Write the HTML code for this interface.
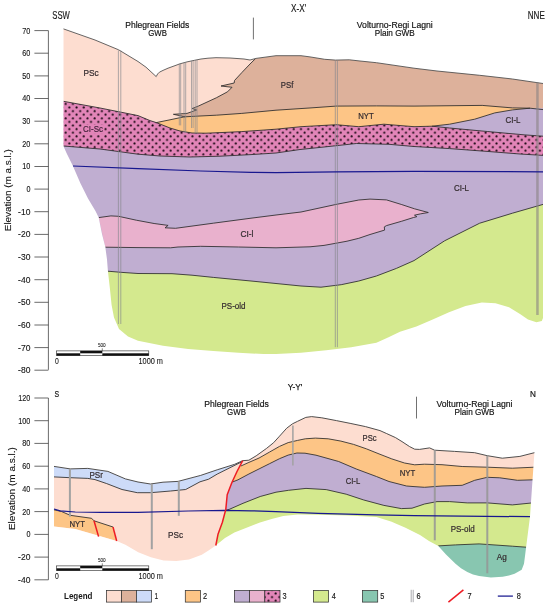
<!DOCTYPE html>
<html lang="en"><head><meta charset="utf-8"><title>Geological cross-sections X-X' and Y-Y'</title>
<style>
html,body{margin:0;padding:0;background:#fff;}
body{width:550px;height:610px;overflow:hidden;}
svg{display:block;font-family:"Liberation Sans",sans-serif;}
</style></head><body>
<svg width="550" height="610" viewBox="0 0 550 610">
<rect width="550" height="610" fill="#ffffff"/>
<defs>
<pattern id="dots" x="0" y="0" width="7.24" height="7.2" patternUnits="userSpaceOnUse"><rect width="7.24" height="7.2" fill="#e285b8"/><circle cx="0.54" cy="3.1" r="1.05" fill="#14060e"/><circle cx="7.78" cy="3.1" r="1.05" fill="#14060e"/><circle cx="4.16" cy="6.7" r="1.05" fill="#14060e"/><circle cx="4.16" cy="-0.5" r="1.05" fill="#14060e"/></pattern>
</defs>
<g>
<rect x="40" y="10" width="520" height="140" fill="#fdddd0"/>
<polygon points="255.5,58.6 250.0,64.0 242.0,72.4 234.5,80.5 234.2,83.0 221.0,86.0 232.0,87.3 227.5,91.8 216.3,97.8 198.5,106.0 192.2,108.5 196.5,110.0 187.0,113.4 173.4,114.3 185.0,116.8 185.0,140.0 580.0,140.0 580.0,0.0 255.5,0.0" fill="#ddb19b" />
<polygon points="156.3,122.6 170.0,119.8 180.0,117.7 185.0,116.8 200.0,116.0 216.3,115.2 241.8,113.4 276.0,110.2 311.0,107.9 336.2,106.1 376.4,105.9 414.0,106.1 482.2,105.4 512.4,107.9 530.0,108.2 543.0,109.6 580.0,109.6 580.0,140.0 156.3,140.0" fill="#fdc586" />
<polygon points="432.0,126.2 449.6,124.2 474.7,119.2 494.8,112.9 512.4,109.9 530.0,108.2 580.0,108.2 580.0,145.0 432.0,145.0" fill="#c0aed1" />
<polygon points="23.5,101.3 63.5,101.3 100.0,108.0 138.0,115.6 150.0,120.6 156.3,122.6 170.0,128.0 180.0,131.0 192.0,133.0 206.0,133.2 220.0,132.6 241.8,131.6 276.0,129.2 301.0,126.7 336.2,124.7 358.8,126.7 383.9,124.2 414.0,126.7 432.0,126.2 449.6,128.0 487.3,131.5 524.9,134.9 543.0,136.2 583.0,136.2 583.0,170.0 23.5,170.0" fill="url(#dots)" />
<polygon points="23.5,146.0 63.5,146.0 100.0,149.0 138.0,154.2 160.0,156.0 190.0,157.0 220.0,156.2 251.0,154.6 276.0,153.0 300.0,149.5 326.0,146.8 356.3,143.5 389.0,144.3 414.0,146.5 449.6,148.6 487.0,151.4 520.0,154.0 543.0,155.4 583.0,155.4 583.0,300.0 23.5,300.0" fill="#c0aed1" />
<polygon points="98.7,217.6 110.9,215.9 118.5,216.3 136.3,220.2 154.1,223.5 168.1,225.4 165.0,227.8 175.6,228.3 213.3,223.2 251.0,218.2 276.0,215.0 301.0,212.0 336.2,204.4 358.8,200.0 370.0,199.1 386.5,199.9 401.8,204.6 414.5,208.8 428.3,212.5 420.3,213.9 414.5,215.2 416.8,216.7 413.5,217.5 401.8,221.2 386.5,225.6 384.3,226.9 384.6,230.1 370.0,234.5 358.8,238.3 347.0,241.2 336.2,243.2 324.0,245.4 310.0,246.8 276.0,247.8 238.4,247.0 200.7,246.3 178.0,247.0 170.6,247.8 138.0,247.6 105.3,247.2" fill="#e9b1cd" />
<polygon points="67.9,271.2 107.9,271.2 122.0,272.4 138.0,273.5 172.0,273.7 192.0,275.2 213.3,277.4 251.0,281.0 276.0,283.5 301.0,286.0 321.0,287.2 341.2,284.7 358.8,281.0 376.4,276.0 396.4,268.4 414.0,260.6 444.6,240.8 479.7,223.2 512.4,213.2 543.0,204.4 583.0,204.4 583.0,380.0 67.9,380.0" fill="#d4e98e" />
<polyline points="255.5,58.6 250.0,64.0 242.0,72.4 234.5,80.5 234.2,83.0 221.0,86.0 232.0,87.3 227.5,91.8 216.3,97.8 198.5,106.0 192.2,108.5 196.5,110.0 187.0,113.4 173.4,114.3" fill="none" stroke="#2a2a2a" stroke-width="0.85" stroke-linejoin="round" />
<polyline points="173.4,114.3 185.0,116.8 200.0,116.0 216.3,115.2 241.8,113.4 276.0,110.2 311.0,107.9 336.2,106.1 376.4,105.9 414.0,106.1 482.2,105.4 512.4,107.9 530.0,108.2 543.0,109.6" fill="none" stroke="#2a2a2a" stroke-width="0.85" stroke-linejoin="round" />
<polyline points="156.3,122.6 170.0,119.8 180.0,117.7 185.0,116.8" fill="none" stroke="#2a2a2a" stroke-width="0.85" stroke-linejoin="round" />
<polyline points="432.0,126.2 449.6,124.2 474.7,119.2 494.8,112.9 512.4,109.9 530.0,108.2" fill="none" stroke="#2a2a2a" stroke-width="0.85" stroke-linejoin="round" />
<polyline points="63.5,101.3 100.0,108.0 138.0,115.6 150.0,120.6 156.3,122.6 170.0,128.0 180.0,131.0 192.0,133.0 206.0,133.2 220.0,132.6 241.8,131.6 276.0,129.2 301.0,126.7 336.2,124.7 358.8,126.7 383.9,124.2 414.0,126.7 432.0,126.2 449.6,128.0 487.3,131.5 524.9,134.9 543.0,136.2" fill="none" stroke="#2a2a2a" stroke-width="0.85" stroke-linejoin="round" />
<polyline points="63.5,146.0 100.0,149.0 138.0,154.2 160.0,156.0 190.0,157.0 220.0,156.2 251.0,154.6 276.0,153.0 300.0,149.5 326.0,146.8 356.3,143.5 389.0,144.3 414.0,146.5 449.6,148.6 487.0,151.4 520.0,154.0 543.0,155.4" fill="none" stroke="#2a2a2a" stroke-width="0.85" stroke-linejoin="round" />
<polyline points="98.7,217.6 110.9,215.9 118.5,216.3 136.3,220.2 154.1,223.5 168.1,225.4 165.0,227.8 175.6,228.3 213.3,223.2 251.0,218.2 276.0,215.0 301.0,212.0 336.2,204.4 358.8,200.0 370.0,199.1 386.5,199.9 401.8,204.6 414.5,208.8 428.3,212.5" fill="none" stroke="#2a2a2a" stroke-width="0.85" stroke-linejoin="round" />
<polyline points="428.3,212.5 420.3,213.9 414.5,215.2 416.8,216.7 413.5,217.5 401.8,221.2 386.5,225.6 384.3,226.9 384.6,230.1 370.0,234.5 358.8,238.3 347.0,241.2 336.2,243.2 324.0,245.4 310.0,246.8 276.0,247.8 238.4,247.0 200.7,246.3 178.0,247.0 170.6,247.8 138.0,247.6 105.3,247.2" fill="none" stroke="#2a2a2a" stroke-width="0.85" stroke-linejoin="round" />
<polyline points="107.9,271.2 122.0,272.4 138.0,273.5 172.0,273.7 192.0,275.2 213.3,277.4 251.0,281.0 276.0,283.5 301.0,286.0 321.0,287.2 341.2,284.7 358.8,281.0 376.4,276.0 396.4,268.4 414.0,260.6 444.6,240.8 479.7,223.2 512.4,213.2 543.0,204.4" fill="none" stroke="#2a2a2a" stroke-width="0.85" stroke-linejoin="round" />
</g>
<path d="M0,0H550V384H0Z M63.5,28.9 95.0,40.0 118.6,49.8 138.0,61.5 146.0,67.2 156.2,76.6 157.6,74.0 159.4,72.2 163.0,70.4 168.0,68.2 174.0,66.0 180.0,63.8 187.0,61.9 194.5,60.3 201.0,59.0 208.0,58.2 216.0,57.7 230.0,58.0 244.0,59.0 250.0,60.0 256.0,58.4 276.0,55.7 301.0,55.7 310.0,56.9 324.7,59.3 335.4,60.1 349.3,59.8 360.0,61.0 376.4,62.7 414.0,68.2 437.0,71.0 479.7,75.3 512.4,79.0 543.0,83.5 543.0,318.0 541.8,321.0 536.4,322.3 528.0,319.5 520.0,314.0 509.0,307.3 495.5,303.2 481.8,302.4 465.5,305.9 449.0,312.2 432.7,319.5 416.4,326.4 400.0,331.8 388.0,337.5 376.4,342.7 351.3,347.2 326.2,350.2 301.0,352.8 276.0,354.0 263.4,354.0 238.4,352.8 213.3,351.0 188.2,349.0 163.0,345.7 138.0,340.7 128.0,336.4 119.0,329.0 114.0,317.6 111.6,305.0 109.9,288.5 107.9,271.0 107.0,259.6 105.3,246.9 102.0,234.1 98.7,217.6 95.6,211.2 88.0,198.5 80.4,183.3 72.7,165.4 66.5,153.0 63.5,146.2Z" fill="#fff" fill-rule="evenodd"/>
<polyline points="63.5,28.9 95.0,40.0 118.6,49.8 138.0,61.5 146.0,67.2 156.2,76.6 157.6,74.0 159.4,72.2 163.0,70.4 168.0,68.2 174.0,66.0 180.0,63.8 187.0,61.9 194.5,60.3 201.0,59.0 208.0,58.2 216.0,57.7 230.0,58.0 244.0,59.0 250.0,60.0 256.0,58.4 276.0,55.7 301.0,55.7 310.0,56.9 324.7,59.3 335.4,60.1 349.3,59.8 360.0,61.0 376.4,62.7 414.0,68.2 437.0,71.0 479.7,75.3 512.4,79.0 543.0,83.5" fill="none" stroke="#4a4a4a" stroke-width="0.85" stroke-linejoin="round" />
<line x1="118.4" y1="50.4" x2="118.4" y2="324.0" stroke="#85878c" stroke-width="0.65"/><line x1="120.8" y1="50.4" x2="120.8" y2="324.0" stroke="#85878c" stroke-width="0.65"/>
<line x1="179.3" y1="63.8" x2="179.3" y2="125.4" stroke="#85878c" stroke-width="0.65"/><line x1="180.7" y1="63.8" x2="180.7" y2="125.4" stroke="#85878c" stroke-width="0.65"/>
<line x1="184.0" y1="62.5" x2="184.0" y2="133.0" stroke="#85878c" stroke-width="0.65"/><line x1="185.7" y1="62.5" x2="185.7" y2="133.0" stroke="#85878c" stroke-width="0.65"/>
<line x1="191.5" y1="60.8" x2="191.5" y2="128.0" stroke="#85878c" stroke-width="0.65"/><line x1="193.1" y1="60.8" x2="193.1" y2="128.0" stroke="#85878c" stroke-width="0.65"/>
<line x1="195.2" y1="60.0" x2="195.2" y2="134.0" stroke="#85878c" stroke-width="0.65"/><line x1="197.0" y1="60.0" x2="197.0" y2="134.0" stroke="#85878c" stroke-width="0.65"/>
<line x1="335.3" y1="60.3" x2="335.3" y2="347.2" stroke="#85878c" stroke-width="0.65"/><line x1="337.4" y1="60.3" x2="337.4" y2="347.2" stroke="#85878c" stroke-width="0.65"/>
<rect x="536.2" y="82.6" width="2.5" height="232.4" fill="#8a8585" fill-opacity="0.62"/>
<polyline points="73.0,166.0 138.0,168.6 200.7,171.0 251.0,172.3 276.0,172.6 336.2,171.8 414.0,171.3 543.0,171.8" fill="none" stroke="#18188f" stroke-width="1.25" stroke-linejoin="round" />
<line x1="48.4" y1="30.6" x2="48.4" y2="369.8" stroke="#3a3a3a" stroke-width="0.75"/><line x1="34.4" y1="30.6" x2="48.4" y2="30.6" stroke="#3a3a3a" stroke-width="0.75"/><text x="30.4" y="33.5" text-anchor="end" font-size="8.2" textLength="8.1" lengthAdjust="spacingAndGlyphs" fill="#161616" stroke="#161616" stroke-width="0.12">70</text><line x1="34.4" y1="53.2" x2="48.4" y2="53.2" stroke="#3a3a3a" stroke-width="0.75"/><text x="30.4" y="56.1" text-anchor="end" font-size="8.2" textLength="8.1" lengthAdjust="spacingAndGlyphs" fill="#161616" stroke="#161616" stroke-width="0.12">60</text><line x1="34.4" y1="75.9" x2="48.4" y2="75.9" stroke="#3a3a3a" stroke-width="0.75"/><text x="30.4" y="78.8" text-anchor="end" font-size="8.2" textLength="8.1" lengthAdjust="spacingAndGlyphs" fill="#161616" stroke="#161616" stroke-width="0.12">50</text><line x1="34.4" y1="98.5" x2="48.4" y2="98.5" stroke="#3a3a3a" stroke-width="0.75"/><text x="30.4" y="101.4" text-anchor="end" font-size="8.2" textLength="8.1" lengthAdjust="spacingAndGlyphs" fill="#161616" stroke="#161616" stroke-width="0.12">40</text><line x1="34.4" y1="121.2" x2="48.4" y2="121.2" stroke="#3a3a3a" stroke-width="0.75"/><text x="30.4" y="124.1" text-anchor="end" font-size="8.2" textLength="8.1" lengthAdjust="spacingAndGlyphs" fill="#161616" stroke="#161616" stroke-width="0.12">30</text><line x1="34.4" y1="143.8" x2="48.4" y2="143.8" stroke="#3a3a3a" stroke-width="0.75"/><text x="30.4" y="146.7" text-anchor="end" font-size="8.2" textLength="8.1" lengthAdjust="spacingAndGlyphs" fill="#161616" stroke="#161616" stroke-width="0.12">20</text><line x1="34.4" y1="166.5" x2="48.4" y2="166.5" stroke="#3a3a3a" stroke-width="0.75"/><text x="30.4" y="169.4" text-anchor="end" font-size="8.2" textLength="8.1" lengthAdjust="spacingAndGlyphs" fill="#161616" stroke="#161616" stroke-width="0.12">10</text><line x1="34.4" y1="189.1" x2="48.4" y2="189.1" stroke="#3a3a3a" stroke-width="0.75"/><text x="30.4" y="192.0" text-anchor="end" font-size="8.2" textLength="4.0" lengthAdjust="spacingAndGlyphs" fill="#161616" stroke="#161616" stroke-width="0.12">0</text><line x1="34.4" y1="211.7" x2="48.4" y2="211.7" stroke="#3a3a3a" stroke-width="0.75"/><text x="30.4" y="214.6" text-anchor="end" font-size="8.2" textLength="12.3" lengthAdjust="spacingAndGlyphs" fill="#161616" stroke="#161616" stroke-width="0.12">-10</text><line x1="34.4" y1="234.4" x2="48.4" y2="234.4" stroke="#3a3a3a" stroke-width="0.75"/><text x="30.4" y="237.3" text-anchor="end" font-size="8.2" textLength="12.3" lengthAdjust="spacingAndGlyphs" fill="#161616" stroke="#161616" stroke-width="0.12">-20</text><line x1="34.4" y1="257.0" x2="48.4" y2="257.0" stroke="#3a3a3a" stroke-width="0.75"/><text x="30.4" y="259.9" text-anchor="end" font-size="8.2" textLength="12.3" lengthAdjust="spacingAndGlyphs" fill="#161616" stroke="#161616" stroke-width="0.12">-30</text><line x1="34.4" y1="279.7" x2="48.4" y2="279.7" stroke="#3a3a3a" stroke-width="0.75"/><text x="30.4" y="282.6" text-anchor="end" font-size="8.2" textLength="12.3" lengthAdjust="spacingAndGlyphs" fill="#161616" stroke="#161616" stroke-width="0.12">-40</text><line x1="34.4" y1="302.3" x2="48.4" y2="302.3" stroke="#3a3a3a" stroke-width="0.75"/><text x="30.4" y="305.2" text-anchor="end" font-size="8.2" textLength="12.3" lengthAdjust="spacingAndGlyphs" fill="#161616" stroke="#161616" stroke-width="0.12">-50</text><line x1="34.4" y1="325.0" x2="48.4" y2="325.0" stroke="#3a3a3a" stroke-width="0.75"/><text x="30.4" y="327.9" text-anchor="end" font-size="8.2" textLength="12.3" lengthAdjust="spacingAndGlyphs" fill="#161616" stroke="#161616" stroke-width="0.12">-60</text><line x1="34.4" y1="347.6" x2="48.4" y2="347.6" stroke="#3a3a3a" stroke-width="0.75"/><text x="30.4" y="350.5" text-anchor="end" font-size="8.2" textLength="12.3" lengthAdjust="spacingAndGlyphs" fill="#161616" stroke="#161616" stroke-width="0.12">-70</text><line x1="34.4" y1="370.2" x2="48.4" y2="370.2" stroke="#3a3a3a" stroke-width="0.75"/><text x="30.4" y="373.1" text-anchor="end" font-size="8.2" textLength="12.3" lengthAdjust="spacingAndGlyphs" fill="#161616" stroke="#161616" stroke-width="0.12">-80</text>
<text transform="translate(11.3,190.2) rotate(-90)" text-anchor="middle" font-size="9.6" textLength="82" lengthAdjust="spacingAndGlyphs" fill="#161616" stroke="#161616" stroke-width="0.12">Elevation (m a.s.l.)</text>
<text x="52.3" y="19.4" font-size="10" text-anchor="start" textLength="17.5" lengthAdjust="spacingAndGlyphs" fill="#161616" stroke="#161616" stroke-width="0.15">SSW</text>
<text x="291" y="11.9" font-size="10" text-anchor="start" textLength="15.2" lengthAdjust="spacingAndGlyphs" fill="#161616" stroke="#161616" stroke-width="0.15">X-X'</text>
<text x="527.8" y="19.0" font-size="10.4" text-anchor="start" textLength="17" lengthAdjust="spacingAndGlyphs" fill="#161616" stroke="#161616" stroke-width="0.15">NNE</text>
<text x="157.3" y="28.0" font-size="9.2" text-anchor="middle" textLength="64" lengthAdjust="spacingAndGlyphs" fill="#161616" stroke="#161616" stroke-width="0.2">Phlegrean Fields</text>
<text x="157.6" y="36.0" font-size="9.2" text-anchor="middle" textLength="18.6" lengthAdjust="spacingAndGlyphs" fill="#161616" stroke="#161616" stroke-width="0.2">GWB</text>
<text x="394.8" y="28.0" font-size="9.2" text-anchor="middle" textLength="76" lengthAdjust="spacingAndGlyphs" fill="#161616" stroke="#161616" stroke-width="0.2">Volturno-Regi Lagni</text>
<text x="394.7" y="36.0" font-size="9.2" text-anchor="middle" textLength="40" lengthAdjust="spacingAndGlyphs" fill="#161616" stroke="#161616" stroke-width="0.2">Plain GWB</text>
<line x1="253.4" y1="17.6" x2="253.4" y2="39.4" stroke="#333" stroke-width="0.7"/>
<text x="83.4" y="76.4" font-size="8.3" text-anchor="start" textLength="15.2" lengthAdjust="spacingAndGlyphs" fill="#352d30" stroke="#352d30" stroke-width="0.22">PSc</text>
<rect x="81.8" y="124.3" width="22" height="9.6" fill="#e285b8"/>
<text x="83" y="132.3" font-size="8.3" text-anchor="start" textLength="20" lengthAdjust="spacingAndGlyphs" fill="#3d1f36" stroke="#3d1f36" stroke-width="0.15">CI-Sc</text>
<text x="280.8" y="87.9" font-size="8.3" text-anchor="start" textLength="12.5" lengthAdjust="spacingAndGlyphs" fill="#352d30" stroke="#352d30" stroke-width="0.22">PSf</text>
<text x="358.2" y="118.9" font-size="8.3" text-anchor="start" textLength="15.5" lengthAdjust="spacingAndGlyphs" fill="#352d30" stroke="#352d30" stroke-width="0.22">NYT</text>
<text x="505.5" y="122.6" font-size="8.3" text-anchor="start" textLength="15" lengthAdjust="spacingAndGlyphs" fill="#352d30" stroke="#352d30" stroke-width="0.22">CI-L</text>
<text x="454" y="191" font-size="8.3" text-anchor="start" textLength="15" lengthAdjust="spacingAndGlyphs" fill="#352d30" stroke="#352d30" stroke-width="0.22">CI-L</text>
<text x="240.4" y="237" font-size="8.3" text-anchor="start" textLength="13" lengthAdjust="spacingAndGlyphs" fill="#352d30" stroke="#352d30" stroke-width="0.22">CI-l</text>
<text x="221.5" y="308.7" font-size="8.3" text-anchor="start" textLength="24" lengthAdjust="spacingAndGlyphs" fill="#352d30" stroke="#352d30" stroke-width="0.22">PS-old</text>
<rect x="56.6" y="350.9" width="92.2" height="4.8" fill="#fff" stroke="#111" stroke-width="0.55"/><rect x="56.6" y="353.29999999999995" width="23.6" height="2.4" fill="#111"/><rect x="80.2" y="350.9" width="22.1" height="2.4" fill="#111"/><rect x="102.3" y="353.29999999999995" width="46.5" height="2.4" fill="#111"/><line x1="102.3" y1="348.29999999999995" x2="102.3" y2="350.9" stroke="#111" stroke-width="0.5"/><text x="101.8" y="347.09999999999997" font-size="6" text-anchor="middle" textLength="7.8" lengthAdjust="spacingAndGlyphs" fill="#161616" stroke="#161616" stroke-width="0.08">500</text><text x="57" y="364.29999999999995" font-size="8.4" text-anchor="middle" textLength="3.8" lengthAdjust="spacingAndGlyphs" fill="#161616" stroke="#161616" stroke-width="0.1">0</text><text x="138.5" y="364.29999999999995" font-size="8.3" text-anchor="start" textLength="24.5" lengthAdjust="spacingAndGlyphs" fill="#161616" stroke="#161616" stroke-width="0.1">1000 m</text>
<g>
<rect x="200" y="400" width="360" height="90" fill="#fdddd0"/>
<polygon points="200.9,482.0 240.9,466.0 248.9,462.4 259.1,458.0 269.3,452.2 279.5,446.4 288.2,442.6 297.6,440.4 305.3,438.8 315.4,438.1 328.2,438.8 340.9,441.1 353.6,444.4 366.3,448.8 379.0,453.9 391.8,458.9 404.5,463.0 414.7,464.8 424.5,464.2 442.0,464.7 462.2,466.5 487.3,467.2 512.4,468.2 534.4,467.2 574.4,467.2 574.4,500.0 200.9,500.0" fill="#fdc586" />
<polygon points="192.5,498.0 232.5,482.0 238.0,479.8 248.9,474.0 259.1,468.9 269.3,463.8 279.5,458.7 288.2,455.1 296.9,453.0 305.0,453.2 316.0,455.2 338.7,461.5 356.3,469.0 376.4,476.5 389.0,481.5 406.5,486.0 414.0,486.6 424.5,487.3 442.0,486.0 462.2,485.3 474.7,480.3 487.3,477.3 499.8,477.8 517.4,480.3 533.7,479.8 573.7,479.8 573.7,520.0 192.5,520.0" fill="#c0aed1" />
<polygon points="186.0,526.2 226.0,510.2 229.2,509.4 243.0,503.3 260.2,496.5 276.0,492.2 288.5,490.3 306.0,488.4 326.2,489.6 346.2,494.2 363.8,500.0 383.9,505.4 401.4,508.6 412.0,508.2 424.5,504.0 437.0,501.6 449.6,501.6 467.2,502.9 487.3,502.9 512.4,504.9 532.4,502.9 572.4,502.9 572.4,560.0 186.0,560.0" fill="#d4e98e" />
<polygon points="400.0,546.6 438.3,545.9 455.5,544.9 479.1,543.9 498.0,545.2 512.4,546.2 526.1,547.2 560.0,547.2 560.0,590.0 400.0,590.0" fill="#88c6b0" />
<polyline points="240.9,466.0 248.9,462.4 259.1,458.0 269.3,452.2 279.5,446.4 288.2,442.6 297.6,440.4 305.3,438.8 315.4,438.1 328.2,438.8 340.9,441.1 353.6,444.4 366.3,448.8 379.0,453.9 391.8,458.9 404.5,463.0 414.7,464.8 424.5,464.2 442.0,464.7 462.2,466.5 487.3,467.2 512.4,468.2 534.4,467.2" fill="none" stroke="#2a2a2a" stroke-width="0.85" stroke-linejoin="round" />
<polyline points="232.5,482.0 238.0,479.8 248.9,474.0 259.1,468.9 269.3,463.8 279.5,458.7 288.2,455.1 296.9,453.0 305.0,453.2 316.0,455.2 338.7,461.5 356.3,469.0 376.4,476.5 389.0,481.5 406.5,486.0 414.0,486.6 424.5,487.3 442.0,486.0 462.2,485.3 474.7,480.3 487.3,477.3 499.8,477.8 517.4,480.3 533.7,479.8" fill="none" stroke="#2a2a2a" stroke-width="0.85" stroke-linejoin="round" />
<polyline points="226.0,510.2 229.2,509.4 243.0,503.3 260.2,496.5 276.0,492.2 288.5,490.3 306.0,488.4 326.2,489.6 346.2,494.2 363.8,500.0 383.9,505.4 401.4,508.6 412.0,508.2 424.5,504.0 437.0,501.6 449.6,501.6 467.2,502.9 487.3,502.9 512.4,504.9 532.4,502.9" fill="none" stroke="#2a2a2a" stroke-width="0.85" stroke-linejoin="round" />
<polyline points="438.3,545.9 455.5,544.9 479.1,543.9 498.0,545.2 512.4,546.2 526.1,547.2" fill="none" stroke="#2a2a2a" stroke-width="0.85" stroke-linejoin="round" />
<polygon points="242.7,460.7 237.0,471.5 231.8,482.7 227.2,494.7 225.8,509.4 222.4,522.3 218.0,534.3 215.8,545.5 212.0,600.0 20.0,600.0 20.0,400.0 246.0,400.0" fill="#fdddd0" />
<polygon points="54.0,466.4 70.2,468.9 87.8,468.4 107.9,471.4 125.4,478.9 138.0,482.0 150.5,484.0 163.0,482.2 178.0,481.4 200.7,475.4 217.2,469.8 234.4,464.4 242.7,460.7 242.7,460.9 241.3,462.0 231.0,467.2 217.2,474.1 208.6,479.2 200.0,481.8 185.7,489.5 170.6,491.0 150.5,492.7 137.3,492.7 122.0,489.5 106.7,483.6 95.0,479.6 87.8,478.4 70.2,477.7 54.0,476.9 30.0,476.9 30.0,466.4" fill="#cddbf8" />
<polygon points="54.0,509.8 61.5,511.5 70.2,515.3 91.6,518.3 94.0,520.8 113.0,527.0 116.7,541.0 97.8,535.4 75.3,529.0 54.0,526.6 30.0,526.6 30.0,509.8" fill="#fdc586" />
<polyline points="54.0,476.9 70.2,477.7 87.8,478.4 95.0,479.6 106.7,483.6 122.0,489.5 137.3,492.7 150.5,492.7 170.6,491.0 185.7,489.5 200.0,481.8 208.6,479.2 217.2,474.1 231.0,467.2 241.3,462.0 242.7,460.9" fill="none" stroke="#2a2a2a" stroke-width="0.85" stroke-linejoin="round" />
<polyline points="54.0,509.8 61.5,511.5 70.2,515.3 91.6,518.3 94.0,520.8 113.0,527.0" fill="none" stroke="#2a2a2a" stroke-width="0.85" stroke-linejoin="round" />
</g>
<path d="M0,384H550V610H0Z M54.0,466.4 70.2,468.9 87.8,468.4 107.9,471.4 125.4,478.9 138.0,482.0 150.5,484.0 163.0,482.2 178.0,481.4 200.7,475.4 217.2,469.8 234.4,464.4 242.7,460.7 248.9,460.2 256.2,455.8 266.4,448.5 273.6,442.7 279.5,436.2 286.7,428.2 292.5,423.8 297.6,421.3 305.8,417.4 311.6,416.6 321.8,417.8 336.4,420.6 350.9,423.5 365.5,426.6 380.0,430.6 386.7,433.6 395.5,437.6 402.0,441.6 409.6,446.6 414.7,449.2 419.5,449.4 429.6,447.9 434.6,450.2 454.6,451.4 474.7,452.7 487.3,455.7 502.3,458.2 519.9,456.4 534.4,452.7 534.4,452.7 530.0,516.7 526.1,547.2 526.1,547.2 525.2,554.4 524.0,563.8 521.7,569.7 514.6,573.8 509.0,575.6 502.7,576.8 490.9,577.5 479.1,576.1 473.0,574.4 467.3,572.1 461.0,568.2 455.5,563.8 446.0,554.4 438.3,545.9 438.3,545.9 429.0,541.0 420.0,535.0 405.5,527.8 391.0,521.4 376.4,516.9 347.3,515.5 318.0,514.7 297.8,514.4 283.3,515.9 271.6,519.0 260.0,522.6 251.6,525.7 234.4,532.6 225.0,538.0 216.0,545.3 215.8,545.5 208.5,550.6 201.8,554.7 189.0,559.6 176.3,561.1 163.6,560.6 150.9,557.3 138.2,552.2 125.4,544.7 116.7,541.0 97.8,535.4 75.3,529.0 54.0,526.6Z" fill="#fff" fill-rule="evenodd"/>
<polyline points="54.0,466.4 70.2,468.9 87.8,468.4 107.9,471.4 125.4,478.9 138.0,482.0 150.5,484.0 163.0,482.2 178.0,481.4 200.7,475.4 217.2,469.8 234.4,464.4 242.7,460.7 248.9,460.2 256.2,455.8 266.4,448.5 273.6,442.7 279.5,436.2 286.7,428.2 292.5,423.8 297.6,421.3 305.8,417.4 311.6,416.6 321.8,417.8 336.4,420.6 350.9,423.5 365.5,426.6 380.0,430.6 386.7,433.6 395.5,437.6 402.0,441.6 409.6,446.6 414.7,449.2 419.5,449.4 429.6,447.9 434.6,450.2 454.6,451.4 474.7,452.7 487.3,455.7 502.3,458.2 519.9,456.4 534.4,452.7" fill="none" stroke="#3c3c3c" stroke-width="0.9" stroke-linejoin="round" />
<line x1="69.9" y1="469" x2="69.9" y2="516.6" stroke="#a2a2a2" stroke-width="2.0" stroke-opacity="1"/>
<line x1="151.8" y1="484" x2="151.8" y2="549.2" stroke="#a2a2a2" stroke-width="2.0" stroke-opacity="1"/>
<line x1="178.8" y1="481.4" x2="178.8" y2="515.8" stroke="#a2a2a2" stroke-width="2.0" stroke-opacity="1"/>
<line x1="292.9" y1="425.5" x2="292.9" y2="465.5" stroke="#a2a2a2" stroke-width="1.5" stroke-opacity="1"/>
<line x1="434.8" y1="450.2" x2="434.8" y2="540.3" stroke="#959595" stroke-width="2.0" stroke-opacity="0.85"/>
<line x1="487.3" y1="455.7" x2="487.3" y2="573.3" stroke="#959595" stroke-width="2.0" stroke-opacity="0.85"/>
<polyline points="54.0,509.0 60.2,510.8 75.3,512.0 100.4,512.3 138.0,512.3 188.2,511.0 224.5,510.3 251.0,510.8 276.0,511.6 318.0,513.3 376.4,514.8 414.0,515.6 530.0,516.7" fill="none" stroke="#18188f" stroke-width="1.25" stroke-linejoin="round" />
<polyline points="242.7,460.7 237.0,471.5 231.8,482.7 227.2,494.7 225.8,509.4 222.4,522.3 218.0,534.3 215.8,545.5" fill="none" stroke="#ee1c24" stroke-width="1.5" stroke-linejoin="round" />
<polyline points="94.0,520.8 98.6,536.6" fill="none" stroke="#ee1c24" stroke-width="1.5" stroke-linejoin="round" />
<polyline points="113.0,527.0 116.7,541.0" fill="none" stroke="#ee1c24" stroke-width="1.5" stroke-linejoin="round" />
<line x1="48.4" y1="398" x2="48.4" y2="579.8" stroke="#3a3a3a" stroke-width="0.75"/><line x1="34.4" y1="398.0" x2="48.4" y2="398.0" stroke="#3a3a3a" stroke-width="0.75"/><text x="30.4" y="400.9" text-anchor="end" font-size="8.2" textLength="12.1" lengthAdjust="spacingAndGlyphs" fill="#161616" stroke="#161616" stroke-width="0.12">120</text><line x1="34.4" y1="420.7" x2="48.4" y2="420.7" stroke="#3a3a3a" stroke-width="0.75"/><text x="30.4" y="423.6" text-anchor="end" font-size="8.2" textLength="12.1" lengthAdjust="spacingAndGlyphs" fill="#161616" stroke="#161616" stroke-width="0.12">100</text><line x1="34.4" y1="443.4" x2="48.4" y2="443.4" stroke="#3a3a3a" stroke-width="0.75"/><text x="30.4" y="446.3" text-anchor="end" font-size="8.2" textLength="8.1" lengthAdjust="spacingAndGlyphs" fill="#161616" stroke="#161616" stroke-width="0.12">80</text><line x1="34.4" y1="466.2" x2="48.4" y2="466.2" stroke="#3a3a3a" stroke-width="0.75"/><text x="30.4" y="469.1" text-anchor="end" font-size="8.2" textLength="8.1" lengthAdjust="spacingAndGlyphs" fill="#161616" stroke="#161616" stroke-width="0.12">60</text><line x1="34.4" y1="488.9" x2="48.4" y2="488.9" stroke="#3a3a3a" stroke-width="0.75"/><text x="30.4" y="491.8" text-anchor="end" font-size="8.2" textLength="8.1" lengthAdjust="spacingAndGlyphs" fill="#161616" stroke="#161616" stroke-width="0.12">40</text><line x1="34.4" y1="511.6" x2="48.4" y2="511.6" stroke="#3a3a3a" stroke-width="0.75"/><text x="30.4" y="514.5" text-anchor="end" font-size="8.2" textLength="8.1" lengthAdjust="spacingAndGlyphs" fill="#161616" stroke="#161616" stroke-width="0.12">20</text><line x1="34.4" y1="534.4" x2="48.4" y2="534.4" stroke="#3a3a3a" stroke-width="0.75"/><text x="30.4" y="537.2" text-anchor="end" font-size="8.2" textLength="4.0" lengthAdjust="spacingAndGlyphs" fill="#161616" stroke="#161616" stroke-width="0.12">0</text><line x1="34.4" y1="557.1" x2="48.4" y2="557.1" stroke="#3a3a3a" stroke-width="0.75"/><text x="30.4" y="560.0" text-anchor="end" font-size="8.2" textLength="12.3" lengthAdjust="spacingAndGlyphs" fill="#161616" stroke="#161616" stroke-width="0.12">-20</text><line x1="34.4" y1="579.8" x2="48.4" y2="579.8" stroke="#3a3a3a" stroke-width="0.75"/><text x="30.4" y="582.7" text-anchor="end" font-size="8.2" textLength="12.3" lengthAdjust="spacingAndGlyphs" fill="#161616" stroke="#161616" stroke-width="0.12">-40</text>
<text transform="translate(14.8,488.6) rotate(-90)" text-anchor="middle" font-size="9.6" textLength="83" lengthAdjust="spacingAndGlyphs" fill="#161616" stroke="#161616" stroke-width="0.12">Elevation (m a.s.l.)</text>
<text x="54.6" y="397" font-size="9.4" text-anchor="start" textLength="4.6" lengthAdjust="spacingAndGlyphs" fill="#161616" stroke="#161616" stroke-width="0.2">S</text>
<text x="287.8" y="390.4" font-size="9.6" text-anchor="start" textLength="14.6" lengthAdjust="spacingAndGlyphs" fill="#161616" stroke="#161616" stroke-width="0.25">Y-Y'</text>
<text x="530" y="396.8" font-size="8.8" text-anchor="start" textLength="5.9" lengthAdjust="spacingAndGlyphs" fill="#161616" stroke="#161616" stroke-width="0.2">N</text>
<text x="236.5" y="407.3" font-size="9.2" text-anchor="middle" textLength="64.5" lengthAdjust="spacingAndGlyphs" fill="#161616" stroke="#161616" stroke-width="0.2">Phlegrean Fields</text>
<text x="236.5" y="415.2" font-size="9.2" text-anchor="middle" textLength="18.8" lengthAdjust="spacingAndGlyphs" fill="#161616" stroke="#161616" stroke-width="0.2">GWB</text>
<text x="474.5" y="407.3" font-size="9.2" text-anchor="middle" textLength="76" lengthAdjust="spacingAndGlyphs" fill="#161616" stroke="#161616" stroke-width="0.2">Volturno-Regi Lagni</text>
<text x="474.5" y="415.2" font-size="9.2" text-anchor="middle" textLength="40" lengthAdjust="spacingAndGlyphs" fill="#161616" stroke="#161616" stroke-width="0.2">Plain GWB</text>
<line x1="416.5" y1="396.7" x2="416.5" y2="418.5" stroke="#333" stroke-width="0.7"/>
<text x="89.4" y="478.2" font-size="8.3" text-anchor="start" textLength="13.5" lengthAdjust="spacingAndGlyphs" fill="#352d30" stroke="#352d30" stroke-width="0.22">PSr</text>
<text x="69.5" y="526.8" font-size="8.3" text-anchor="start" textLength="15.5" lengthAdjust="spacingAndGlyphs" fill="#352d30" stroke="#352d30" stroke-width="0.22">NYT</text>
<text x="168" y="538.2" font-size="8.3" text-anchor="start" textLength="15" lengthAdjust="spacingAndGlyphs" fill="#352d30" stroke="#352d30" stroke-width="0.22">PSc</text>
<text x="362.6" y="441.2" font-size="8.3" text-anchor="start" textLength="14" lengthAdjust="spacingAndGlyphs" fill="#352d30" stroke="#352d30" stroke-width="0.22">PSc</text>
<text x="399.7" y="476.4" font-size="8.3" text-anchor="start" textLength="15.5" lengthAdjust="spacingAndGlyphs" fill="#352d30" stroke="#352d30" stroke-width="0.22">NYT</text>
<text x="345.7" y="484.3" font-size="8.3" text-anchor="start" textLength="14.5" lengthAdjust="spacingAndGlyphs" fill="#352d30" stroke="#352d30" stroke-width="0.22">CI-L</text>
<text x="450.7" y="531.8" font-size="8.3" text-anchor="start" textLength="24" lengthAdjust="spacingAndGlyphs" fill="#352d30" stroke="#352d30" stroke-width="0.22">PS-old</text>
<text x="496.8" y="560.2" font-size="8.3" text-anchor="start" textLength="10" lengthAdjust="spacingAndGlyphs" fill="#352d30" stroke="#352d30" stroke-width="0.22">Ag</text>
<rect x="56.6" y="565.9" width="92.2" height="4.8" fill="#fff" stroke="#111" stroke-width="0.55"/><rect x="56.6" y="568.3" width="23.6" height="2.4" fill="#111"/><rect x="80.2" y="565.9" width="22.1" height="2.4" fill="#111"/><rect x="102.3" y="568.3" width="46.5" height="2.4" fill="#111"/><line x1="102.3" y1="563.3" x2="102.3" y2="565.9" stroke="#111" stroke-width="0.5"/><text x="101.8" y="562.1" font-size="6" text-anchor="middle" textLength="7.8" lengthAdjust="spacingAndGlyphs" fill="#161616" stroke="#161616" stroke-width="0.08">500</text><text x="57" y="579.3" font-size="8.4" text-anchor="middle" textLength="3.8" lengthAdjust="spacingAndGlyphs" fill="#161616" stroke="#161616" stroke-width="0.1">0</text><text x="138.5" y="579.3" font-size="8.3" text-anchor="start" textLength="24.5" lengthAdjust="spacingAndGlyphs" fill="#161616" stroke="#161616" stroke-width="0.1">1000 m</text>
<text x="64" y="598.6" font-size="9.2" text-anchor="start" textLength="28.4" lengthAdjust="spacingAndGlyphs" font-weight="bold" fill="#161616">Legend</text>
<rect x="106.4" y="590.5" width="15" height="11.6" fill="#fdddd0" stroke="#333" stroke-width="0.75"/>
<rect x="121.4" y="590.5" width="15" height="11.6" fill="#ddb19b" stroke="#333" stroke-width="0.75"/>
<rect x="136.4" y="590.5" width="15" height="11.6" fill="#cddbf8" stroke="#333" stroke-width="0.75"/>
<text x="154.6" y="599.1" font-size="9.4" text-anchor="start" textLength="3.6" lengthAdjust="spacingAndGlyphs" fill="#161616" stroke="#161616" stroke-width="0.15">1</text>
<rect x="185.3" y="590.5" width="15.2" height="11.6" fill="#fdc586" stroke="#333" stroke-width="0.75"/>
<text x="203" y="599.1" font-size="9.4" text-anchor="start" textLength="4.1" lengthAdjust="spacingAndGlyphs" fill="#161616" stroke="#161616" stroke-width="0.15">2</text>
<rect x="234.4" y="590.5" width="15.2" height="11.6" fill="#c0aed1" stroke="#333" stroke-width="0.75"/>
<rect x="249.6" y="590.5" width="15.2" height="11.6" fill="#e9b1cd" stroke="#333" stroke-width="0.75"/>
<rect x="264.8" y="590.5" width="15.2" height="11.6" fill="url(#dots)" stroke="#333" stroke-width="0.75"/>
<text x="282.5" y="599.1" font-size="9.4" text-anchor="start" textLength="4.1" lengthAdjust="spacingAndGlyphs" fill="#161616" stroke="#161616" stroke-width="0.15">3</text>
<rect x="313.4" y="590.5" width="15.2" height="11.6" fill="#d4e98e" stroke="#333" stroke-width="0.75"/>
<text x="331.8" y="599.1" font-size="9.4" text-anchor="start" textLength="4.1" lengthAdjust="spacingAndGlyphs" fill="#161616" stroke="#161616" stroke-width="0.15">4</text>
<rect x="362.5" y="590.5" width="15.2" height="11.6" fill="#88c6b0" stroke="#333" stroke-width="0.75"/>
<text x="380.2" y="599.1" font-size="9.4" text-anchor="start" textLength="4.1" lengthAdjust="spacingAndGlyphs" fill="#161616" stroke="#161616" stroke-width="0.15">5</text>
<line x1="411.2" y1="589.8" x2="411.2" y2="602.2" stroke="#85878c" stroke-width="0.7"/><line x1="413.2" y1="589.8" x2="413.2" y2="602.2" stroke="#85878c" stroke-width="0.7"/>
<text x="416.4" y="599.1" font-size="9.4" text-anchor="start" textLength="4.1" lengthAdjust="spacingAndGlyphs" fill="#161616" stroke="#161616" stroke-width="0.15">6</text>
<polyline points="448.4,602.1 463.4,589.8" fill="none" stroke="#ee1c24" stroke-width="1.5" stroke-linejoin="round" />
<text x="467.6" y="599.1" font-size="9.4" text-anchor="start" textLength="4.1" lengthAdjust="spacingAndGlyphs" fill="#161616" stroke="#161616" stroke-width="0.15">7</text>
<polyline points="497.8,596.1 512.9,596.1" fill="none" stroke="#18188f" stroke-width="1.25" stroke-linejoin="round" />
<text x="516.8" y="599.1" font-size="9.4" text-anchor="start" textLength="4.1" lengthAdjust="spacingAndGlyphs" fill="#161616" stroke="#161616" stroke-width="0.15">8</text>
</svg>
</body></html>
